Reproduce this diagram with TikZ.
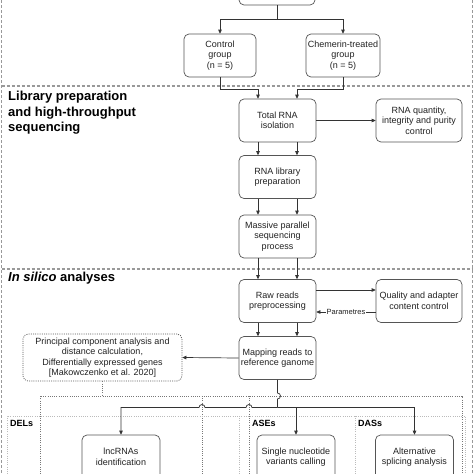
\documentclass[tikz,border=0pt]{standalone}
\usepackage{fontspec}
\setmainfont{Liberation Sans}
\usetikzlibrary{arrows.meta,positioning}
\definecolor{linegray}{HTML}{333333}
\definecolor{boxgray}{HTML}{555555}
\definecolor{txtgray}{HTML}{222222}
\definecolor{framegray}{HTML}{999999}
\definecolor{dotdark}{HTML}{777777}
\definecolor{dotlight}{HTML}{BBBBBB}

\begin{document}
\begin{tikzpicture}[x=1pt,y=-1pt,
  box/.style={draw=boxgray,fill=white,line width=0.7pt,rounded corners=5pt,minimum width=77pt,minimum height=43pt,inner sep=2pt,align=center,text=txtgray,font=\fontsize{9}{10.5}\selectfont},
  arr/.style={draw=linegray,line width=0.7pt,-{Triangle[length=4pt,width=3.6pt]}},
  frame/.style={draw=framegray,line width=1.1pt,dash pattern=on 3pt off 2pt},
  grp/.style={draw=dotdark,line width=0.7pt,dash pattern=on 1pt off 1.2pt},
  sub/.style={draw=dotlight,line width=0.7pt,dash pattern=on 1pt off 1.2pt},
  head/.style={inner sep=0pt,align=left,text=black,font=\fontsize{13}{15.5}\selectfont\bfseries},
  tag/.style={inner sep=0pt,anchor=base west,text=black,font=\fontsize{9}{10.5}\selectfont\bfseries}]
\useasboundingbox (0,0) rectangle (474,474);
\clip (0,0) rectangle (474,474);

% section frames
\draw[frame] (1.5,-20) -- (1.5,494) (472.5,-20) -- (472.5,494);
\draw[frame] (1.5,86) -- (472.5,86) (1.5,269) -- (472.5,269);
\coordinate (gtop) at (0,396);
\draw[grp] (40,494) -- (40,396) -- (462,396) -- (462,494);
\draw[grp] (202,396) -- (202,494) (249,396) -- (249,494);
\draw[sub] (7,494) -- (7,416) -- (465,416) -- (465,494);
\draw[sub] (239,416) -- (239,494) (355,416) -- (355,494);

\node[head,anchor=north west] (hlib) at (8,91) {Library preparation\\and high-throughput\\sequencing};
\node[head,anchor=base west] (hsil) at (8,281.5) {\textit{In silico} analyses};
\node[tag] (tdel) at (10,426) {DELs};
\node[tag] (tase) at (252,426) {ASEs};
\node[tag] (tdas) at (358,426) {DASs};

% animals
\node[box,minimum width=76pt] (exp) at (277,-16.5) {};
\node[box,minimum width=72pt] (ctrl) at (220,55.5) {Control\\group\\(n = 5)};
\node[box,minimum width=72pt] (chem) at (343,55.5) {Chemerin-treated\\group\\(n = 5)};
\draw[arr] (exp.south) -- ++(0,14) -| (ctrl.north);
\draw[arr] (exp.south) -- ++(0,14) -| (chem.north);

% library and sequencing
\node[box] (tot) at (277.5,120.5) {Total RNA\\isolation};
\node[box,minimum width=86pt] (qc1) at (419,120.5) {RNA quantity,\\integrity and purity\\control};
\node[box] (lib) at (277.5,177) {RNA library\\preparation};
\node[box] (seq) at (277.5,236.5) {Massive parallel\\sequencing\\process};
\draw[arr] (ctrl.south) -- ++(0,12) -| ([xshift=-19.5pt]tot.north);
\draw[arr] (chem.south) -- ++(0,12) -| ([xshift=19.5pt]tot.north);
\draw[arr] (tot.east) -- (qc1.west);

% in silico
\node[box] (raw) at (277.5,301) {Raw reads\\preprocessing};
\node[box,minimum width=86pt] (qc2) at (419,301) {Quality and adapter\\content control};
\node[box] (map) at (277.5,358) {Mapping reads to\\reference ganome};
\node[box,draw=boxgray,dash pattern=on 1pt off 1.2pt,minimum width=159pt,minimum height=47pt] (pca) at (102.5,357.5)
  {Principal component analysis and\\distance calculation,\\Differentially expressed genes\\{[Makowczenko et al. 2020]}};
\foreach \a/\b in {tot/lib,lib/seq,seq/raw,raw/map}
  \foreach \s in {-19.5pt,19.5pt}
    \draw[arr] ([xshift=\s]\a.south) -- ([xshift=\s]\b.north);
\draw[arr] ([yshift=11pt]raw.east) -- ([yshift=11pt]qc2.west);
\draw[arr] ([yshift=-11pt]qc2.west) -- node[fill=white,inner sep=1pt,text=txtgray,font=\fontsize{7.5}{9}\selectfont] (par) {Parametres} ([yshift=-11pt]raw.east);
\draw[arr] (map.west) -- (pca.east);
\draw[grp] (pca.south) -- (pca.south |- gtop);

% downstream analyses
\node[box,minimum width=78pt,minimum height=44pt] (lnc) at (121,457) {lncRNAs\\identification};
\node[box,minimum width=78pt,minimum height=44pt] (snv) at (296,457) {Single nucleotide\\variants calling};
\node[box,minimum width=78pt,minimum height=44pt] (alt) at (414.5,457) {Alternative\\splicing analysis};
\coordinate (split) at (277.5,407.5);
\draw[linegray,line width=0.7pt] (map.south) -- (277.5,393) arc[start angle=90,end angle=-90,radius=3pt] -- (split);
\draw[arr] (split) -- (252,407.5) arc[start angle=0,end angle=180,radius=3pt] -- (205,407.5) arc[start angle=0,end angle=180,radius=3pt] -| (lnc.north);
\draw[arr] (split) -| (snv.north);
\draw[arr] (split) -| (alt.north);
\end{tikzpicture}
\end{document}
